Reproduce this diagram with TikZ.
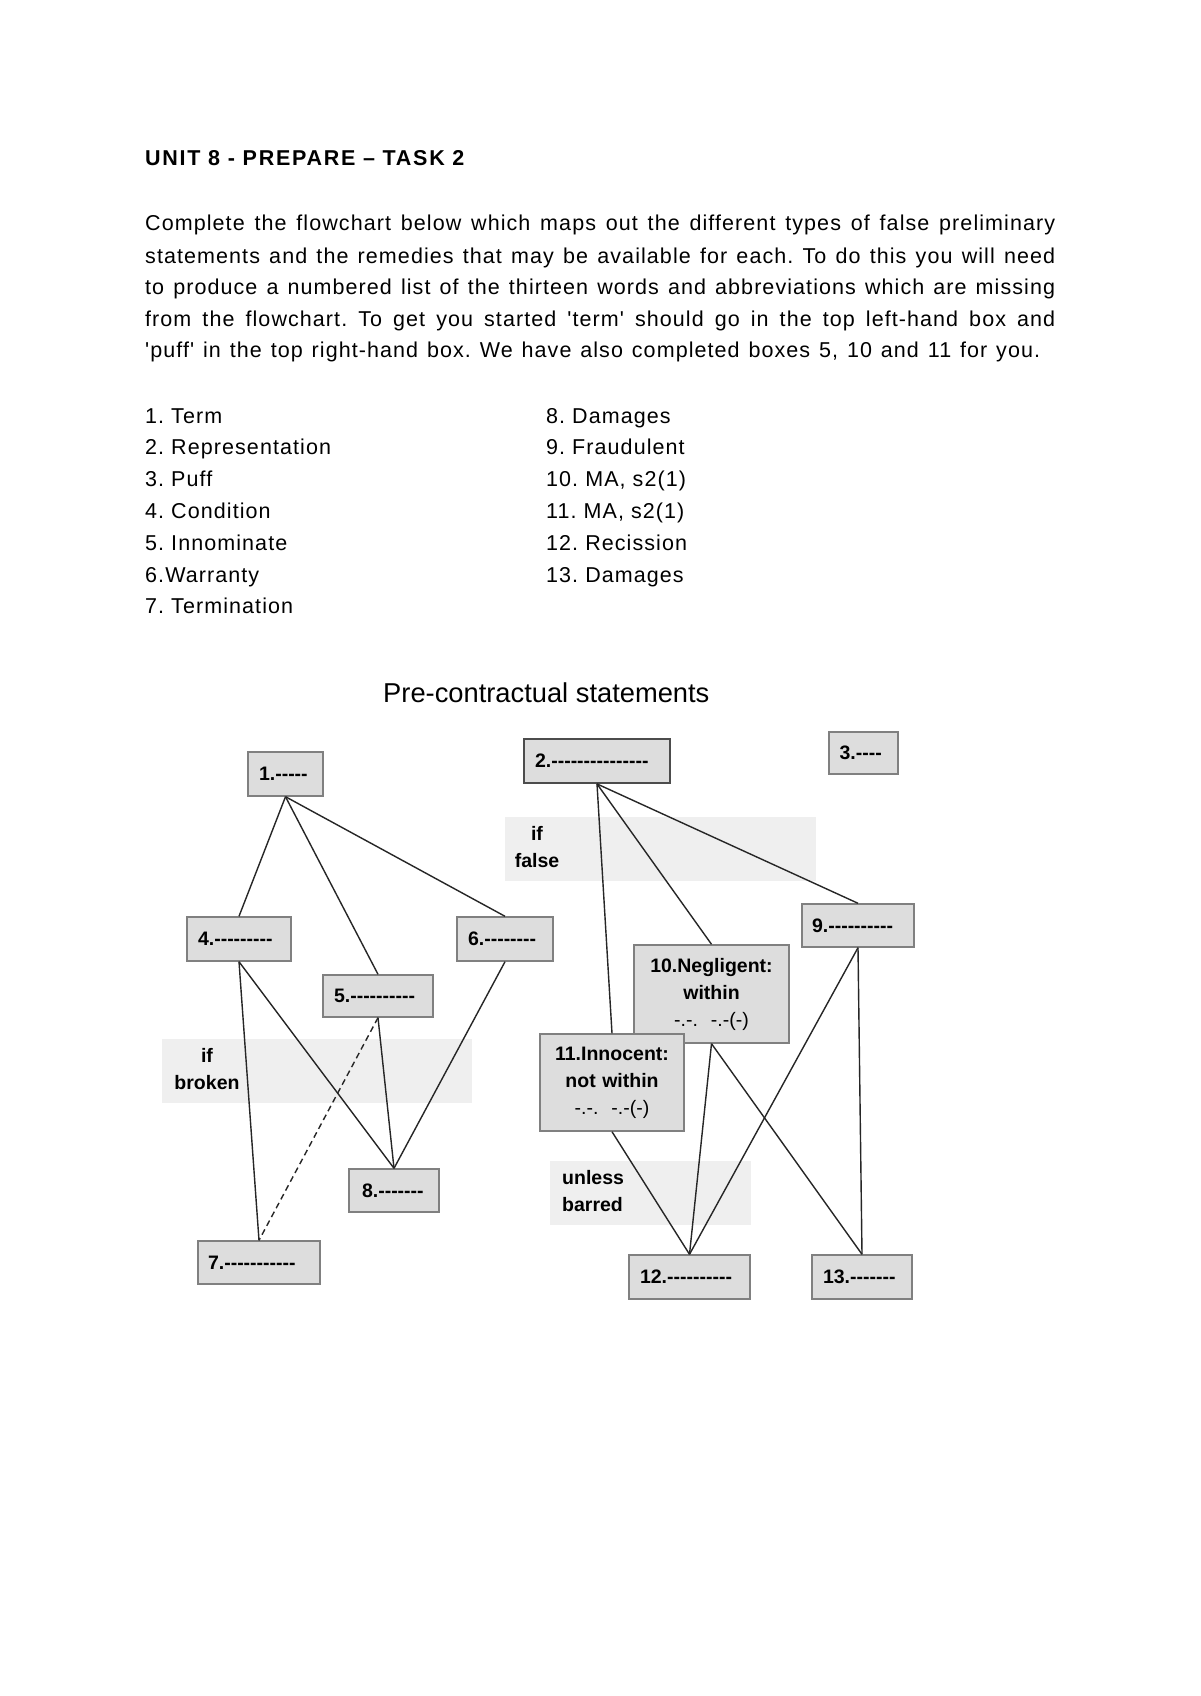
\documentclass[tikz,border=0pt]{standalone}
\usepackage{fontspec}
\setmainfont{Liberation Sans}
\newfontfamily\bodyfont{Liberation Sans}[LetterSpace=5]
\newfontfamily\titlefont{Liberation Sans}[LetterSpace=8]
\definecolor{boxfill}{HTML}{DDDDDD}
\definecolor{boxline}{HTML}{808080}
\definecolor{lblfill}{HTML}{EFEFEF}
\definecolor{conncol}{HTML}{262626}
\newcommand\hy[1]{\foreach\k in {1,...,#1}{-}}
\newcommand\bodysize{\bodyfont\fontsize{21.5}{26}\selectfont}
\frenchspacing
\begin{document}
\begin{tikzpicture}[x=1pt,y=-1pt,
  txt/.style={anchor=base west, inner sep=0pt, font=\bodysize},
  bx/.style={draw=boxline, fill=boxfill, line width=1.4pt, inner xsep=11pt, inner ysep=0pt,
    anchor=center, align=left, font=\bfseries\fontsize{19.5}{27}\selectfont},
  lblbg/.style={fill=lblfill, inner sep=0pt, draw=none},
  lbltxt/.style={inner sep=0pt, font=\bfseries\fontsize{19.5}{26.5}\selectfont},
  conn/.style={draw=conncol, line width=1.4pt},
  dconn/.style={draw=conncol, line width=1.4pt, dash pattern=on 6pt off 4pt}]
\useasboundingbox[fill=white] (0,0) rectangle (1200,1696);

% ---- header text ----
\node[txt, font=\titlefont\bfseries\fontsize{21.5}{26}\selectfont] (title) at (145,166) {UNIT 8 - PREPARE – TASK 2};
\node[txt] (p1) at (145,231) {\makebox[910pt][s]{Complete the flowchart below which maps out the different types of false preliminary}};
\node[txt] (p2) at (145,263) {\makebox[910pt][s]{statements and the remedies that may be available for each. To do this you will need}};
\node[txt] (p3) at (145,294) {\makebox[910pt][s]{to produce a numbered list of the thirteen words and abbreviations which are missing}};
\node[txt] (p4) at (145,326) {\makebox[910pt][s]{from the flowchart. To get you started 'term' should go in the top left-hand box and}};
\node[txt] (p5) at (145,357) {\makebox[895pt][s]{'puff' in the top right-hand box. We have also completed boxes 5, 10 and 11 for you.}};

% ---- list ----
\node[txt] (l1) at (145,423) {1. Term};
\node[txt] (l2) at (145,454.8) {2. Representation};
\node[txt] (l3) at (145,486.6) {3. Puff};
\node[txt] (l4) at (145,518.4) {4. Condition};
\node[txt] (l5) at (145,550.2) {5. Innominate};
\node[txt] (l6) at (145,582) {6.Warranty};
\node[txt] (l7) at (145,613.8) {7. Termination};
\node[txt] (r8) at (546,423) {8. Damages};
\node[txt] (r9) at (546,454.8) {9. Fraudulent};
\node[txt] (r10) at (546,486.6) {10. MA, s2(1)};
\node[txt] (r11) at (546,518.4) {11. MA, s2(1)};
\node[txt] (r12) at (546,550.2) {12. Recission};
\node[txt] (r13) at (546,582) {13. Damages};

% ---- diagram title ----
\node[anchor=base west, inner sep=0pt, font=\fontsize{27.3}{32}\selectfont] (dtitle) at (383,702) {Pre-contractual statements};

% ---- label regions ----
\node[lblbg, minimum width=311pt, minimum height=64pt] (rfalse) at (660.5,849) {};
\node[lblbg, minimum width=310pt, minimum height=64pt] (rbroken) at (317,1071) {};
\node[lblbg, minimum width=201pt, minimum height=64pt] (rbarred) at (650.5,1193) {};
\node[lbltxt, align=center] (tfalse) at (537,847) {if\\false};
\node[lbltxt, align=center] (tbroken) at (207,1069) {if\\broken};
\node[lbltxt, align=left, anchor=west] (tbarred) at (562,1191) {unless\\barred};

% ---- boxes ----
\node[bx, minimum width=75pt, minimum height=44pt, text width=53pt] (b1) at (285.5,774) {1.\hy{5}};
\node[bx, draw=black!70, line width=1.8pt, minimum width=146pt, minimum height=44pt, text width=124pt] (b2) at (597,761) {2.\hy{15}};
\node[bx, minimum width=69pt, minimum height=42pt, text width=48pt, inner xsep=10pt] (b3) at (863.5,753) {3.\hy{4}};
\node[bx, minimum width=104pt, minimum height=44pt, text width=82pt] (b4) at (239,939) {4.\hy{9}};
\node[bx, minimum width=110pt, minimum height=42pt, text width=88pt] (b5) at (378,996) {5.\hy{10}};
\node[bx, minimum width=96pt, minimum height=44pt, text width=74pt] (b6) at (505,939) {6.\hy{8}};
\node[bx, minimum width=122pt, minimum height=43pt, text width=102pt, inner xsep=10pt] (b7) at (259,1262.5) {7.\hy{11}};
\node[bx, minimum width=90pt, minimum height=43pt, text width=64pt, inner xsep=13pt] (b8) at (394,1190.5) {8.\hy{7}};
\node[bx, minimum width=112pt, minimum height=43pt, text width=92pt, inner xsep=10pt] (b9) at (858,925.5) {9.\hy{10}};
\node[bx, minimum width=155pt, minimum height=98pt, text width=133pt, align=center] (b10) at (711.5,994) {10.Negligent:\\within\\{\mdseries -.-.\ \ -.-(-)}};
\node[bx, minimum width=144pt, minimum height=97pt, text width=122pt, align=center] (b11) at (612,1082.5) {11.Innocent:\\not within\\{\mdseries -.-.\ \ -.-(-)}};
\node[bx, minimum width=121pt, minimum height=44pt, text width=99pt] (b12) at (689.5,1277) {12.\hy{10}};
\node[bx, minimum width=100pt, minimum height=44pt, text width=78pt] (b13) at (862,1277) {13.\hy{7}};

% ---- connectors ----
\draw[conn] (b1.south) -- (b4.north);
\draw[conn] (b1.south) -- (b5.north);
\draw[conn] (b1.south) -- (b6.north);
\draw[conn] (b4.south) -- (b7.north);
\draw[conn] (b4.south) -- (b8.north);
\draw[conn] (b5.south) -- (b8.north);
\draw[conn] (b6.south) -- (b8.north);
\draw[dconn] (b5.south) -- (b7.north);
\draw[conn] (b2.south) -- (b11.north);
\draw[conn] (b2.south) -- (b10.north);
\draw[conn] (b2.south) -- (b9.north);
\draw[conn] (b10.south) -- (b12.north);
\draw[conn] (b10.south) -- (b13.north);
\draw[conn] (b11.south) -- (b12.north);
\draw[conn] (b9.south) -- (b12.north);
\draw[conn] (b9.south) -- (b13.north);
\end{tikzpicture}
\end{document}
